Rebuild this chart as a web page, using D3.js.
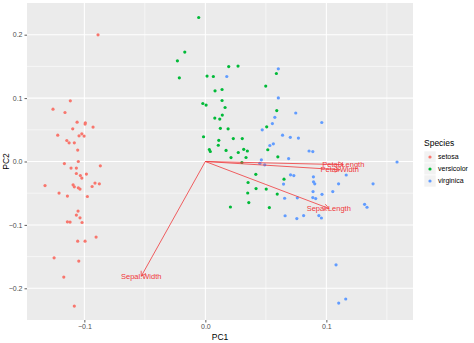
<!DOCTYPE html>
<html>
<head>
<meta charset="utf-8">
<script src="https://cdn.jsdelivr.net/npm/d3@7"></script>
<style>
  html, body { margin: 0; padding: 0; background: #ffffff; }
  svg { display: block; font-family: "Liberation Sans", Arial, sans-serif; }
</style>
</head>
<body>
<svg id="chart" width="474" height="343"></svg>
<script>
// PCA scores (PC1, PC2) per species
const setosa = [
  [-0.0887, 0.1998], [-0.1116, 0.0957], [-0.1259, 0.0826], [-0.1160, 0.0773], [-0.1060, 0.0621],
  [-0.0992, 0.0610], [-0.0994, 0.0590], [-0.0928, 0.0543], [-0.1096, 0.0516], [-0.1220, 0.0416],
  [-0.1021, 0.0437], [-0.1044, 0.0405], [-0.1002, 0.0401], [-0.1145, 0.0331], [-0.1126, 0.0295],
  [-0.1083, 0.0295], [-0.1055, 0.0180], [-0.1165, -0.0032], [-0.1050, 0.0000], [-0.0868, -0.0068],
  [-0.1110, -0.0104], [-0.1066, -0.0104], [-0.1066, -0.0189], [-0.0983, -0.0199], [-0.1033, -0.0221],
  [-0.1021, -0.0262], [-0.0912, -0.0341], [-0.0876, -0.0352], [-0.1325, -0.0379], [-0.1093, -0.0368],
  [-0.1083, -0.0399], [-0.1050, -0.0415], [-0.1036, -0.0435], [-0.0936, -0.0394], [-0.1209, -0.0498],
  [-0.1140, -0.0546], [-0.0975, -0.0552], [-0.1052, -0.0782], [-0.1066, -0.0845], [-0.1036, -0.0888],
  [-0.1140, -0.0951], [-0.1118, -0.0956], [-0.1019, -0.0962], [-0.0903, -0.1192], [-0.1055, -0.1256],
  [-0.0994, -0.1256], [-0.1250, -0.1519], [-0.1046, -0.1571], [-0.1170, -0.1823], [-0.1083, -0.2281]
];
const versicolor = [
  [-0.0055, 0.2271], [-0.0170, 0.1726], [-0.0231, 0.1588], [-0.0215, 0.1320], [0.0193, 0.1498],
  [0.0270, 0.1505], [0.0014, 0.1347], [0.0066, 0.1341], [0.0587, 0.1388], [0.0499, 0.1189],
  [0.0080, 0.1115], [0.0138, 0.1136], [0.0138, 0.0962], [-0.0021, 0.0915], [0.0006, 0.0890],
  [0.0163, 0.0852], [0.0590, 0.0804], [0.0140, 0.0732], [0.0078, 0.0685], [0.0119, 0.0669],
  [0.0507, 0.0547], [0.0124, 0.0524], [0.0188, 0.0516], [-0.0015, 0.0390], [0.0231, 0.0361],
  [0.0305, 0.0361], [0.0111, 0.0334], [0.0107, 0.0256], [0.0033, 0.0189], [0.0041, 0.0158],
  [0.0171, 0.0174], [0.0272, 0.0142], [0.0317, 0.0192], [0.0347, 0.0166], [0.0516, 0.0185],
  [0.0212, 0.0062], [0.0336, 0.0063], [0.0599, 0.0074], [0.0302, -0.0016], [0.0417, -0.0202],
  [0.0353, -0.0331], [0.0419, -0.0427], [0.0503, -0.0435], [0.0350, -0.0497], [0.0359, -0.0648],
  [0.0207, -0.0718], [0.0529, -0.0726], [0.0594, -0.0514], [0.0650, -0.0278]
];
const virginica = [
  [0.0177, 0.1341], [0.0603, 0.1462], [0.0603, 0.1002], [0.0747, 0.0765], [0.0574, 0.0697],
  [0.0554, 0.0598], [0.0470, 0.0500], [0.0962, 0.0615], [0.0638, 0.0416], [0.0702, 0.0382],
  [0.0769, 0.0369], [0.0533, 0.0252], [0.0562, 0.0279], [0.0857, 0.0166], [0.0888, 0.0156],
  [0.0688, 0.0046], [0.0463, 0.0027], [0.0450, -0.0028], [0.0491, -0.0052], [0.1584, -0.0008],
  [0.0704, -0.0210], [0.0731, -0.0222], [0.0646, -0.0356], [0.0893, -0.0241], [0.0894, -0.0320],
  [0.0904, -0.0352], [0.1164, -0.0213], [0.1101, -0.0352], [0.1386, -0.0352], [0.0655, -0.0580],
  [0.0760, -0.0573], [0.0890, -0.0475], [0.1053, -0.0475], [0.0964, -0.0517], [0.0888, -0.0569],
  [0.0912, -0.0584], [0.1316, -0.0675], [0.1336, -0.0722], [0.0659, -0.0856], [0.0756, -0.0901],
  [0.0812, -0.0853], [0.0938, -0.0853], [0.0959, -0.0891], [0.1080, -0.1629], [0.1102, -0.2233],
  [0.1160, -0.2169]
];

// Variable loadings (scaled to the score axes)
const loadingNames = ["Sepal.Length", "Sepal.Width", "Petal.Length", "Petal.Width"];
const loadingPC1 = [0.102, -0.053, 0.114, 0.111];
const loadingPC2 = [-0.074, -0.181, -0.005, -0.013];

const speciesNames = ["setosa", "versicolor", "virginica"];
const speciesColors = ["#F8766D", "#00BA38", "#619CFF"];
const xTicks = [-0.1, 0.0, 0.1];
const yTicks = [-0.2, -0.1, 0.0, 0.1, 0.2];
const xMinor = [-0.15, -0.05, 0.05, 0.15];
const yMinor = [-0.15, -0.05, 0.05, 0.15];

const svg = d3.select("#chart");
const panel = { left: 27, right: 413, top: 3, bottom: 320 };

const x = d3.scaleLinear().domain([-0.1474, 0.1716]).range([panel.left, panel.right]);
const y = d3.scaleLinear().domain([-0.25, 0.25]).range([panel.bottom, panel.top]);

// panel background
svg.append("rect")
  .attr("x", panel.left).attr("y", panel.top)
  .attr("width", panel.right - panel.left).attr("height", panel.bottom - panel.top)
  .attr("fill", "#EBEBEB");

const grid = svg.append("g");
grid.selectAll(".vminor").data(xMinor).join("line")
  .attr("x1", d => x(d)).attr("x2", d => x(d))
  .attr("y1", panel.top).attr("y2", panel.bottom)
  .attr("stroke", "#ffffff").attr("stroke-width", 0.55);
grid.selectAll(".hminor").data(yMinor).join("line")
  .attr("y1", d => y(d)).attr("y2", d => y(d))
  .attr("x1", panel.left).attr("x2", panel.right)
  .attr("stroke", "#ffffff").attr("stroke-width", 0.55);
grid.selectAll(".vmajor").data(xTicks).join("line")
  .attr("x1", d => x(d)).attr("x2", d => x(d))
  .attr("y1", panel.top).attr("y2", panel.bottom)
  .attr("stroke", "#ffffff").attr("stroke-width", 1.05);
grid.selectAll(".hmajor").data(yTicks).join("line")
  .attr("y1", d => y(d)).attr("y2", d => y(d))
  .attr("x1", panel.left).attr("x2", panel.right)
  .attr("stroke", "#ffffff").attr("stroke-width", 1.05);

// axes
const fmt = d3.format(".1f");
const xAxis = svg.append("g")
  .attr("transform", `translate(0,${panel.bottom})`)
  .call(d3.axisBottom(x).tickValues(xTicks).tickFormat(fmt).tickSize(2.5).tickPadding(2));
const yAxis = svg.append("g")
  .attr("transform", `translate(${panel.left},0)`)
  .call(d3.axisLeft(y).tickValues(yTicks).tickFormat(fmt).tickSize(2.5).tickPadding(2));
[xAxis, yAxis].forEach(a => {
  a.select(".domain").remove();
  a.selectAll(".tick line").attr("stroke", "#333333").attr("stroke-width", 0.8);
  a.selectAll(".tick text").attr("fill", "#4D4D4D").style("font-size", "7px")
    .style("font-family", "'Liberation Sans', Arial, sans-serif");
});

svg.append("text")
  .attr("x", (panel.left + panel.right) / 2).attr("y", 340)
  .attr("text-anchor", "middle").attr("fill", "#000")
  .style("font-size", "8.5px").text("PC1");
svg.append("text")
  .attr("transform", `translate(9,${(panel.top + panel.bottom) / 2}) rotate(-90)`)
  .attr("text-anchor", "middle").attr("fill", "#000")
  .style("font-size", "8.5px").text("PC2");

// score points
const groups = [setosa, versicolor, virginica];
const pts = svg.append("g");
groups.forEach((g, i) => {
  pts.selectAll(null).data(g).join("circle")
    .attr("cx", d => x(d[0])).attr("cy", d => y(d[1]))
    .attr("r", 1.6).attr("fill", speciesColors[i]);
});

// loading arrows
const loadings = loadingNames.map((n, i) => ({ name: n, pc1: loadingPC1[i], pc2: loadingPC2[i] }));
const arr = svg.append("g");
const headLen = 5.5, headAng = Math.PI / 6;
loadings.forEach(d => {
  const x0 = x(0), y0 = y(0), x1 = x(d.pc1), y1 = y(d.pc2);
  arr.append("line")
    .attr("x1", x0).attr("y1", y0).attr("x2", x1).attr("y2", y1)
    .attr("stroke", "#F0383B").attr("stroke-width", 0.8);
  const ang = Math.atan2(y1 - y0, x1 - x0);
  const path = d3.path();
  path.moveTo(x1 - headLen * Math.cos(ang - headAng), y1 - headLen * Math.sin(ang - headAng));
  path.lineTo(x1, y1);
  path.lineTo(x1 - headLen * Math.cos(ang + headAng), y1 - headLen * Math.sin(ang + headAng));
  arr.append("path").attr("d", path.toString())
    .attr("fill", "none").attr("stroke", "#F0383B").attr("stroke-width", 0.8);
});
arr.selectAll("text").data(loadings).join("text")
  .attr("x", d => x(d.pc1)).attr("y", d => y(d.pc2))
  .attr("dy", "0.35em").attr("text-anchor", "middle")
  .attr("fill", "#F0383B").style("font-size", "7.5px")
  .text(d => d.name);

// legend
const legend = svg.append("g").attr("transform", "translate(424,0)");
legend.append("text").attr("x", 0).attr("y", 146)
  .attr("fill", "#000").style("font-size", "8.5px").text("Species");
speciesNames.forEach((s, i) => {
  const ky = 151 + i * 12;
  legend.append("rect").attr("x", 0).attr("y", ky).attr("width", 12).attr("height", 12)
    .attr("fill", "#F2F2F2").attr("stroke", "#ffffff").attr("stroke-width", 0.6);
  legend.append("circle").attr("cx", 6).attr("cy", ky + 6).attr("r", 1.6).attr("fill", speciesColors[i]);
  legend.append("text").attr("x", 14).attr("y", ky + 6).attr("dy", "0.35em")
    .attr("fill", "#000").style("font-size", "7px").text(s);
});
</script>
</body>
</html>
